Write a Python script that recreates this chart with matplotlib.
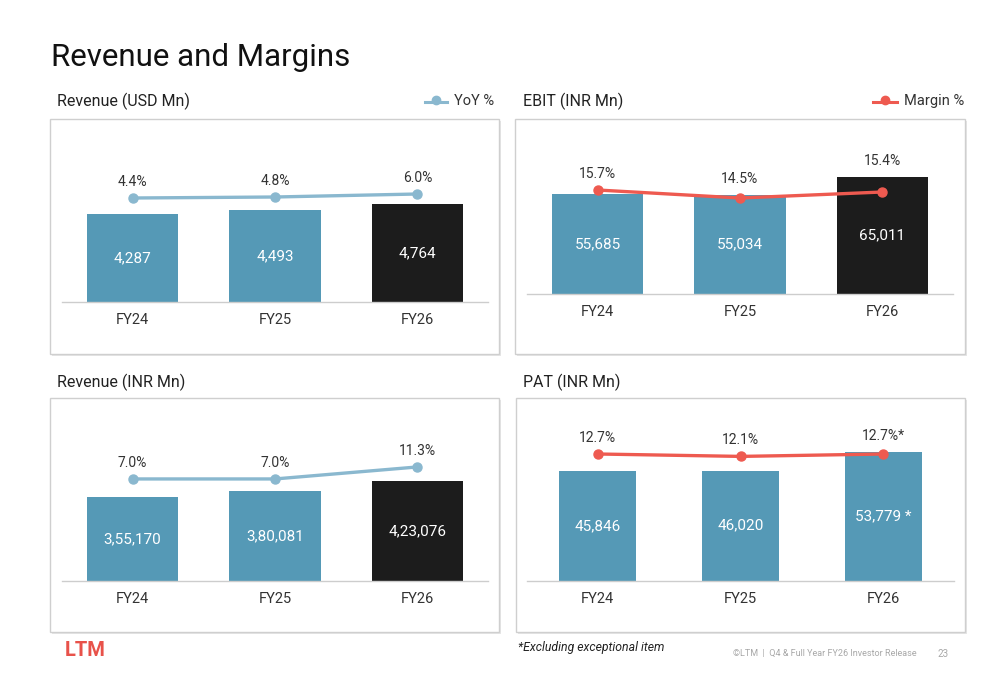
import matplotlib
matplotlib.use("Agg")
import matplotlib.pyplot as plt
from matplotlib.patches import Rectangle
from matplotlib.lines import Line2D

plt.rcParams['font.family'] = ['Roboto', 'DejaVu Sans']

# ---------------- data ----------------
categories = ['FY24', 'FY25', 'FY26']

rev_usd = [4287, 4493, 4764]
rev_usd_yoy = [4.4, 4.8, 6.0]

ebit_inr = [55685, 55034, 65011]
ebit_margin = [15.7, 14.5, 15.4]

rev_inr = [355170, 380081, 423076]
rev_inr_yoy = [7.0, 7.0, 11.3]

pat_inr = [45846, 46020, 53779]
pat_margin = [12.7, 12.1, 12.7]
pat_value_notes = ['', '', ' *']
pat_margin_notes = ['', '', '*']

TEAL = '#5599B6'
BLACK = '#1C1C1C'
BLUE_LINE = '#8AB8CF'
RED_LINE = '#EE5A50'
TXT = '#333333'

W, H = 1000, 685
fig = plt.figure(figsize=(W / 100, H / 100), dpi=100)
fig.patch.set_facecolor('white')


def fx(x):
    return x / W


def fy(y):
    return 1 - y / H


def indian(n):
    s = str(int(n))
    if len(s) <= 3:
        return s
    last3 = s[-3:]
    rest = s[:-3]
    groups = []
    while len(rest) > 2:
        groups.insert(0, rest[-2:])
        rest = rest[:-2]
    if rest:
        groups.insert(0, rest)
    return ','.join(groups + [last3])


def box(x0, y0, x1, y1):
    fig.add_artist(Rectangle((fx(x0 + 2), fy(y1 + 2)), (x1 - x0) / W, (y1 - y0) / H,
                             transform=fig.transFigure, facecolor='#E6E6E6',
                             edgecolor='none', zorder=-3))
    fig.add_artist(Rectangle((fx(x0), fy(y1)), (x1 - x0) / W, (y1 - y0) / H,
                             transform=fig.transFigure, facecolor='white',
                             edgecolor='#CFCFCF', lw=1.0, zorder=-2))


def panel(ax_x0, ax_x1, y_top, y_base, values, pcts, bar_colors, line_color,
          bar_ymax, pct_lim, bar_width, value_notes=None, pct_notes=None):
    ax = fig.add_axes([fx(ax_x0), fy(y_base), (ax_x1 - ax_x0) / W, (y_base - y_top) / H])
    ax.set_facecolor('none')
    xs = list(range(len(categories)))
    ax.bar(xs, values, width=bar_width, color=bar_colors, zorder=2)
    ax.set_xlim(-0.495, len(categories) - 0.505)
    ax.set_ylim(0, bar_ymax)
    for s in ['top', 'left', 'right']:
        ax.spines[s].set_visible(False)
    ax.spines['bottom'].set_color('#CDCDCD')
    ax.spines['bottom'].set_linewidth(1.0)
    ax.set_yticks([])
    ax.set_xticks(xs, categories)
    ax.tick_params(axis='x', length=0, pad=8, labelsize=10.5, labelcolor=TXT)
    value_notes = value_notes or [''] * len(values)
    pct_notes = pct_notes or [''] * len(values)
    for i, v in enumerate(values):
        ax.text(i, v / 2, indian(v) + value_notes[i], ha='center', va='center',
                color='white', fontsize=11, zorder=3)
    ax2 = ax.twinx()
    ax2.set_ylim(*pct_lim)
    ax2.axis('off')
    ax2.plot(xs, pcts, color=line_color, lw=2.4, marker='o', ms=6.5,
             solid_capstyle='round', zorder=4)
    lo, hi = pct_lim
    for i, p in enumerate(pcts):
        bar_top = lo + (values[i] / bar_ymax) * (hi - lo)
        anchor = max(p, bar_top)
        ax2.annotate(f'{p:.1f}%' + pct_notes[i], (i, anchor), xytext=(0, 11.5),
                     textcoords='offset points', ha='center', va='center',
                     fontsize=10, color=TXT)
    return ax


def legend(x0, x1, y, color, label):
    fig.add_artist(Line2D([fx(x0), fx(x1)], [fy(y), fy(y)], transform=fig.transFigure,
                          color=color, lw=2.2))
    fig.add_artist(Line2D([fx((x0 + x1) / 2)], [fy(y - 2)], transform=fig.transFigure,
                          color=color, marker='o', ms=6, lw=0))
    fig.text(fx(x1 + 7), fy(y - 1), label, ha='left', va='center', fontsize=10.5, color=TXT)


# ---------- title ----------
fig.text(fx(51), fy(66), 'Revenue and Margins', ha='left', va='baseline',
         fontsize=22.5, color='#111111')

# ---------- boxes ----------
box(50, 119, 499, 354)
box(515, 119, 965, 354)
box(50, 398, 499, 632)
box(516, 398, 965, 632)

# ---------- subtitles ----------
sub_kw = dict(ha='left', va='center', fontsize=11.5, color='#222222')
fig.text(fx(57), fy(101), 'Revenue (USD Mn)', **sub_kw)
fig.text(fx(523), fy(101), 'EBIT (INR Mn)', **sub_kw)
fig.text(fx(57), fy(382), 'Revenue (INR Mn)', **sub_kw)
fig.text(fx(523), fy(382), 'PAT (INR Mn)', **sub_kw)

legend(425, 447, 102, BLUE_LINE, 'YoY %')
legend(873, 897, 102, RED_LINE, 'Margin %')

# ---------- panels ----------
panel(62, 488, 119, 302, rev_usd, rev_usd_yoy, [TEAL, TEAL, BLACK], BLUE_LINE,
      bar_ymax=8915, pct_lim=(-37.2, 36.0), bar_width=0.64)
panel(527, 953, 119, 294, ebit_inr, ebit_margin, [TEAL, TEAL, BLACK], RED_LINE,
      bar_ymax=97449, pct_lim=(0.1, 26.35), bar_width=0.64)
panel(62, 488, 398, 581, rev_inr, rev_inr_yoy, [TEAL, TEAL, BLACK], BLUE_LINE,
      bar_ymax=773763, pct_lim=(-29.56, 36.0), bar_width=0.64)
panel(527, 954, 398, 581, pat_inr, pat_margin, [TEAL, TEAL, TEAL], RED_LINE,
      bar_ymax=76271, pct_lim=(-19.05, 26.7), bar_width=0.54,
      value_notes=pat_value_notes, pct_notes=pat_margin_notes)

# ---------- footer ----------
fig.text(fx(65), fy(651), 'LTM', ha='left', va='center', fontsize=14.5,
         fontweight='bold', color='#E8524A')
fig.text(fx(518), fy(648), '*Excluding exceptional item', ha='left', va='center',
         fontsize=8.8, style='italic', color='#222222')
fig.text(fx(733), fy(653), '©LTM  |  Q4 & Full Year FY26 Investor Release', ha='left',
         va='center', fontsize=6.5, color='#A8A8A8')
fig.text(fx(937), fy(654), '23', ha='left', va='center', fontsize=7, color='#A8A8A8')

fig.savefig('out.png', dpi=100, facecolor='white')
